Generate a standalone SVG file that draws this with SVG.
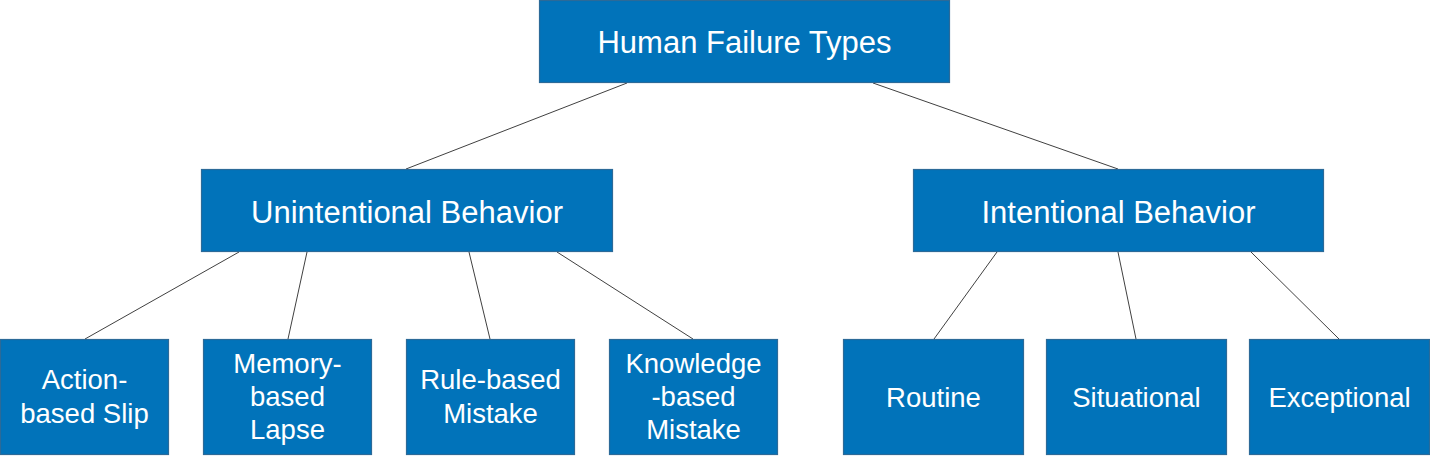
<svg xmlns="http://www.w3.org/2000/svg" width="1430" height="464" viewBox="0 0 1430 464">
<style>
.box{fill:#0173ba;stroke:#2c6a98;stroke-width:1.2}
.t{font-family:"Liberation Sans",Arial,sans-serif;fill:#ffffff;text-anchor:middle}
.big{font-size:31px}
.sm{font-size:27.5px}
.edge{stroke:#404040;stroke-width:1;fill:none}
</style>
<rect width="1430" height="464" fill="#ffffff"/>
<g id="connectors">
<line class="edge" x1="627" y1="83" x2="406" y2="169"/>
<line class="edge" x1="873" y1="83" x2="1118" y2="169"/>
<line class="edge" x1="239" y1="252" x2="85" y2="339"/>
<line class="edge" x1="307" y1="252" x2="288" y2="339"/>
<line class="edge" x1="469" y1="252" x2="490" y2="339"/>
<line class="edge" x1="557" y1="252" x2="693" y2="339"/>
<line class="edge" x1="997" y1="252" x2="934" y2="339"/>
<line class="edge" x1="1118" y1="252" x2="1136" y2="339"/>
<line class="edge" x1="1251" y1="252" x2="1339" y2="339"/>
</g>
<g id="n-root"><rect class="box" x="539.5" y="0.5" width="410" height="82"/><text class="t big" x="744.5" y="53">Human Failure Types</text></g>
<g id="n-unint"><rect class="box" x="201.5" y="169.5" width="411" height="82"/><text class="t big" x="407" y="223">Unintentional Behavior</text></g>
<g id="n-int"><rect class="box" x="913.5" y="169.5" width="410" height="82"/><text class="t big" x="1118.5" y="223">Intentional Behavior</text></g>
<g id="n-action"><rect class="box" x="0.5" y="339.5" width="168" height="115"/><text class="t sm" x="84.5" y="389">Action-</text><text class="t sm" x="84.5" y="423">based Slip</text></g>
<g id="n-memory"><rect class="box" x="203.5" y="339.5" width="168" height="115"/><text class="t sm" x="287.5" y="373">Memory-</text><text class="t sm" x="287.5" y="406">based</text><text class="t sm" x="287.5" y="439">Lapse</text></g>
<g id="n-rule"><rect class="box" x="406.5" y="339.5" width="168" height="115"/><text class="t sm" x="490.5" y="389">Rule-based</text><text class="t sm" x="490.5" y="423">Mistake</text></g>
<g id="n-knowledge"><rect class="box" x="609.5" y="339.5" width="168" height="115"/><text class="t sm" x="693.5" y="373">Knowledge</text><text class="t sm" x="693.5" y="406">-based</text><text class="t sm" x="693.5" y="439">Mistake</text></g>
<g id="n-routine"><rect class="box" x="843.5" y="339.5" width="180" height="115"/><text class="t sm" x="933.5" y="407">Routine</text></g>
<g id="n-situational"><rect class="box" x="1046.5" y="339.5" width="180" height="115"/><text class="t sm" x="1136.5" y="407">Situational</text></g>
<g id="n-exceptional"><rect class="box" x="1249.5" y="339.5" width="180" height="115"/><text class="t sm" x="1339.5" y="407">Exceptional</text></g>
</svg>
